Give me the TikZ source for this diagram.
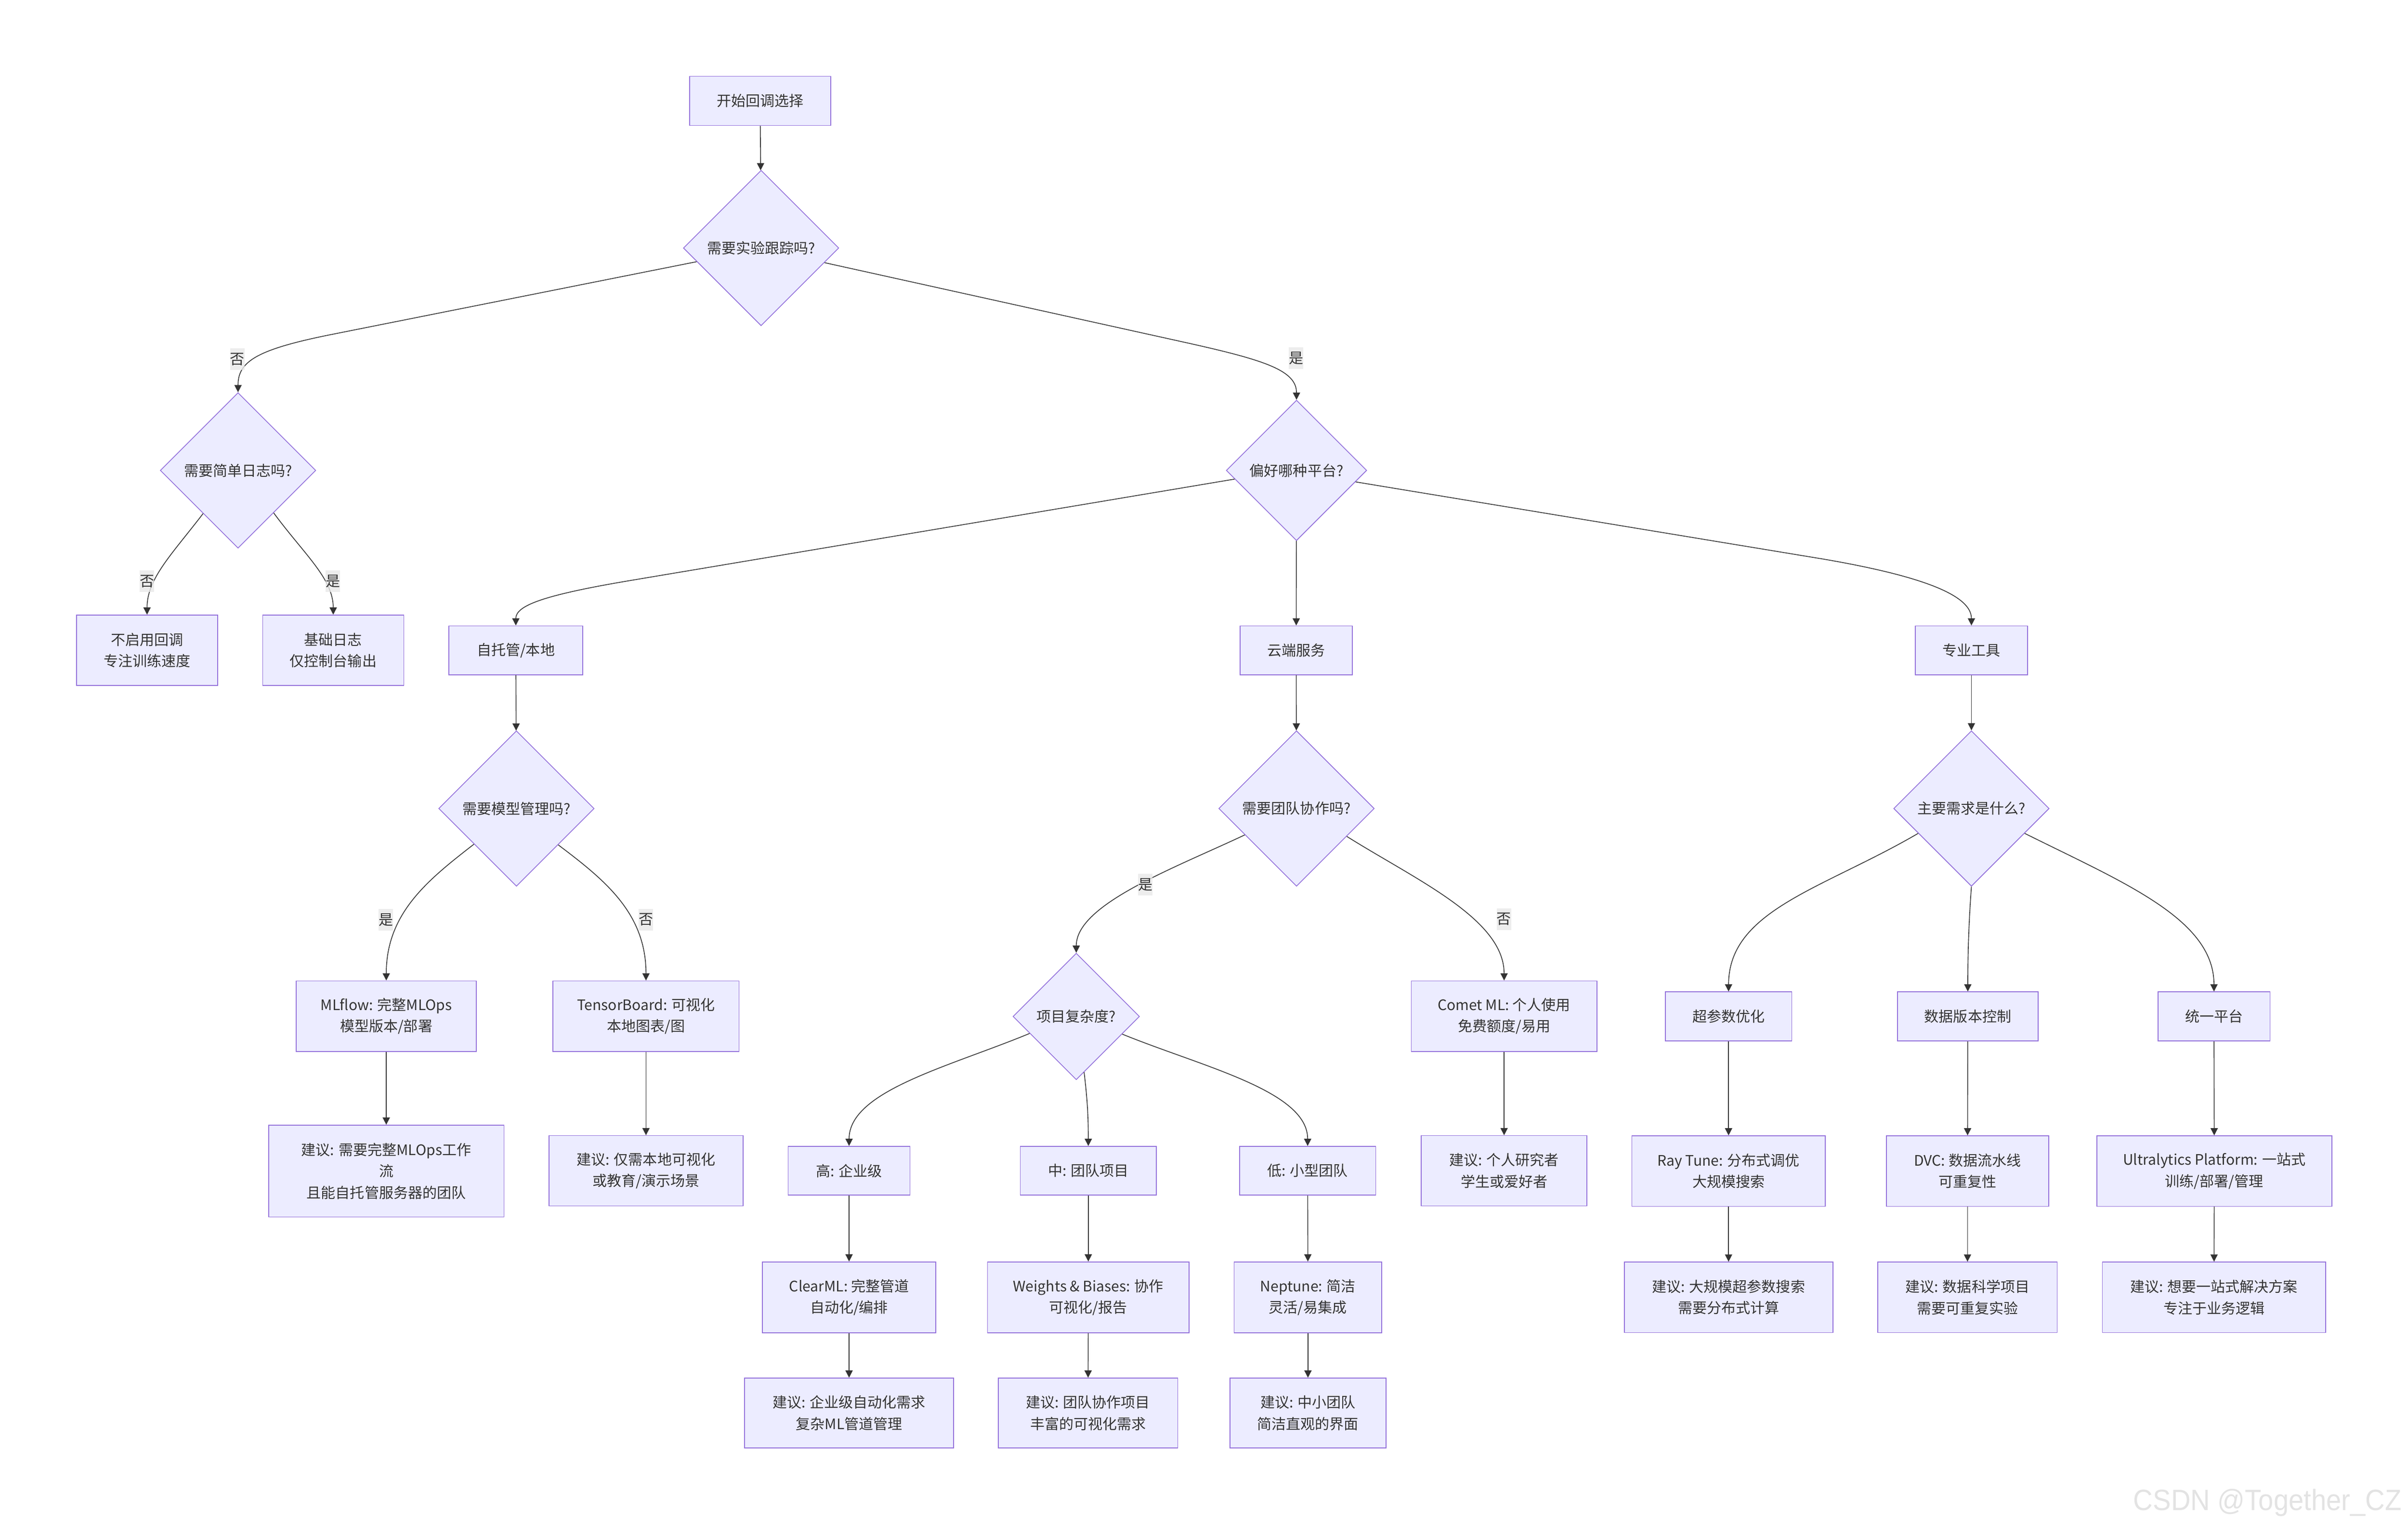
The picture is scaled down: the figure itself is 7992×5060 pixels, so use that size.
\documentclass[tikz,border=0pt]{standalone}
\usepackage{fontspec}
\setmainfont{Noto Sans CJK SC}
\newfontfamily\wmfont{Liberation Sans}
\usetikzlibrary{shapes.geometric,arrows.meta}
\definecolor{nodefill}{HTML}{ECECFF}
\definecolor{nodeline}{HTML}{9370DB}
\definecolor{txt}{HTML}{333333}
\definecolor{lblbg}{HTML}{E8E8E8}
\definecolor{wmcol}{HTML}{E3E3E3}
\tikzset{
  basenode/.style={draw=nodeline, fill=nodefill, line width=0.65pt, text=txt,
    font=\fontsize{12}{17.75}\selectfont, align=center, inner sep=0pt},
  box/.style={basenode, rectangle},
  dia/.style={basenode, diamond, aspect=1},
  edge/.style={draw=txt, line width=0.65pt, -{Triangle[length=6pt,width=6pt]}},
  lbl/.style={fill=lblbg, fill opacity=0.8, text opacity=1, text=txt,
    font=\fontsize{12}{17.75}\selectfont, inner xsep=0pt, inner ysep=0pt,
    minimum height=18pt, minimum width=12pt}
}
\begin{document}
\begin{tikzpicture}[x=0.25pt,y=-0.25pt]
\useasboundingbox (0,0) rectangle (7992,5060);

% ---------- nodes ----------
\node[box, minimum width=117.25pt, minimum height=40.75pt] (start) at (2523,335) {开始回调选择};
\node[dia, minimum width=129pt, minimum height=129pt] (d1) at (2526,823) {需要实验跟踪吗?};
\node[dia, minimum width=129pt, minimum height=129pt] (d2) at (790,1561) {需要简单日志吗?};
\node[dia, minimum width=116.5pt, minimum height=116.5pt] (dp) at (4303,1561) {偏好哪种平台?};

\node[box, minimum width=117pt, minimum height=58.5pt] (n1) at (488,2158) {不启用回调\\专注训练速度};
\node[box, minimum width=117pt, minimum height=58.5pt] (n2) at (1106,2158) {基础日志\\仅控制台输出};
\node[box, minimum width=111pt, minimum height=40.5pt] (self) at (1712,2158) {自托管/本地};
\node[box, minimum width=93pt, minimum height=40.5pt] (cloud) at (4302,2158) {云端服务};
\node[box, minimum width=93pt, minimum height=40.5pt] (pro) at (6543,2158) {专业工具};

\node[dia, minimum width=129pt, minimum height=129pt] (dm) at (1714,2683) {需要模型管理吗?};
\node[dia, minimum width=129pt, minimum height=129pt] (dt) at (4303,2683) {需要团队协作吗?};
\node[dia, minimum width=129pt, minimum height=129pt] (dn) at (6543,2683) {主要需求是什么?};

\node[box, minimum width=149.25pt, minimum height=58.5pt] (mlf) at (1282,3372) {MLflow: 完整MLOps\\模型版本/部署};
\node[box, minimum width=154.5pt, minimum height=58.5pt] (tb) at (2144,3372) {TensorBoard: 可视化\\本地图表/图};
\node[dia, minimum width=105pt, minimum height=105pt] (dx) at (3572,3373) {项目复杂度?};
\node[box, minimum width=154pt, minimum height=58.5pt] (comet) at (4992,3372) {Comet ML: 个人使用\\免费额度/易用};
\node[box, minimum width=105pt, minimum height=40.75pt] (hp) at (5737,3373) {超参数优化};
\node[box, minimum width=116.75pt, minimum height=40.75pt] (dvcg) at (6531,3373) {数据版本控制};
\node[box, minimum width=93pt, minimum height=40.75pt] (uni) at (7348,3373) {统一平台};

\node[box, minimum width=195.25pt, minimum height=76.25pt] (smlf) at (1282,3886) {建议: 需要完整MLOps工作\\流\\且能自托管服务器的团队};
\node[box, minimum width=161pt, minimum height=58.25pt] (stb) at (2144,3885) {建议: 仅需本地可视化\\或教育/演示场景};
\node[box, minimum width=137.5pt, minimum height=58.25pt] (scomet) at (4992,3885) {建议: 个人研究者\\学生或爱好者};
\node[box, minimum width=160.5pt, minimum height=58.5pt] (ray) at (5737,3886) {Ray Tune: 分布式调优\\大规模搜索};
\node[box, minimum width=134.75pt, minimum height=58.5pt] (dvc) at (6530,3886) {DVC: 数据流水线\\可重复性};
\node[box, minimum width=195pt, minimum height=58.5pt] (ultra) at (7349,3886) {Ultralytics Platform: 一站式\\训练/部署/管理};

\node[box, minimum width=101pt, minimum height=40.5pt] (hi) at (2818,3885) {高: 企业级};
\node[box, minimum width=113pt, minimum height=40.5pt] (mid) at (3612,3885) {中: 团队项目};
\node[box, minimum width=113pt, minimum height=40.5pt] (lo) at (4340,3885) {低: 小型团队};

\node[box, minimum width=143.75pt, minimum height=58.75pt] (clear) at (2818,4305) {ClearML: 完整管道\\自动化/编排};
\node[box, minimum width=167.25pt, minimum height=58.75pt] (wb) at (3612,4305) {Weights \& Biases: 协作\\可视化/报告};
\node[box, minimum width=122.5pt, minimum height=58.75pt] (nep) at (4341,4305) {Neptune: 简洁\\灵活/易集成};
\node[box, minimum width=173pt, minimum height=58.5pt] (sray) at (5737,4305) {建议: 大规模超参数搜索\\需要分布式计算};
\node[box, minimum width=148.75pt, minimum height=58.5pt] (sdvc) at (6530,4305) {建议: 数据科学项目\\需要可重复实验};
\node[box, minimum width=185.25pt, minimum height=58.5pt] (sultra) at (7348,4305) {建议: 想要一站式解决方案\\专注于业务逻辑};

\node[box, minimum width=173.25pt, minimum height=58pt] (sclear) at (2818,4689) {建议: 企业级自动化需求\\复杂ML管道管理};
\node[box, minimum width=149pt, minimum height=58pt] (swb) at (3611,4689) {建议: 团队协作项目\\丰富的可视化需求};
\node[box, minimum width=129.5pt, minimum height=58pt] (snep) at (4341,4689) {建议: 中小团队\\简洁直观的界面};

% ---------- edges ----------
\draw[edge] (start) -- (d1);
\draw[edge] (d1.192.4) -- (1100,1110) .. controls (850,1160) and (790,1200) .. (d2.north);
\draw[edge] (d1.347.6) -- (3950,1140) .. controls (4200,1196) and (4303,1230) .. (dp.north);
\draw[edge] (d2.231.3) .. controls (570,1840) and (488,1920) .. (n1.north);
\draw[edge] (d2.310.2) .. controls (1010,1840) and (1106,1920) .. (n2.north);
\draw[edge] (dp.188.6) -- (2100,1925) .. controls (1800,1975) and (1712,2010) .. (self.north);
\draw[edge] (dp) -- (cloud);
\draw[edge] (dp.349.9) -- (6050,1855) .. controls (6400,1915) and (6543,1980) .. (pro.north);
\draw[edge] (self) -- (dm);
\draw[edge] (cloud) -- (dt);
\draw[edge] (pro) -- (dn);
\draw[edge] (dm.220.6) .. controls (1420,2920) and (1282,3030) .. (mlf.north);
\draw[edge] (dm.319.2) .. controls (2007,2920) and (2144,3030) .. (tb.north);
\draw[edge] (dt.207.1) .. controls (3900,2880) and (3572,3000) .. (dx.north);
\draw[edge] (dt.331.9) .. controls (4700,2920) and (4992,3050) .. (comet.north);
\draw[edge] (dn.205.1) .. controls (6050,2950) and (5737,3020) .. (hp.north);
\draw[edge] (dn.south) .. controls (6535,3050) and (6531,3150) .. (dvcg.north);
\draw[edge] (dn.335.3) .. controls (7050,2930) and (7348,3050) .. (uni.north);
\draw[edge] (dx.200.6) .. controls (3150,3540) and (2818,3620) .. (hi.north);
\draw[edge] (dx.278) .. controls (3608,3640) and (3612,3700) .. (mid.north);
\draw[edge] (dx.339.4) .. controls (3990,3540) and (4340,3620) .. (lo.north);
\draw[edge] (mlf) -- (smlf);
\draw[edge] (tb) -- (stb);
\draw[edge] (comet) -- (scomet);
\draw[edge] (hp) -- (ray);
\draw[edge] (ray) -- (sray);
\draw[edge] (dvcg) -- (dvc);
\draw[edge] (dvc) -- (sdvc);
\draw[edge] (uni) -- (ultra);
\draw[edge] (ultra) -- (sultra);
\draw[edge] (hi) -- (clear);
\draw[edge] (clear) -- (sclear);
\draw[edge] (mid) -- (wb);
\draw[edge] (wb) -- (swb);
\draw[edge] (lo) -- (nep);
\draw[edge] (nep) -- (snep);

% ---------- edge labels ----------
\node[lbl] (l1) at (788,1192) {否};
\node[lbl] (l2) at (4302,1188) {是};
\node[lbl] (l3) at (488,1929) {否};
\node[lbl] (l4) at (1105,1929) {是};
\node[lbl] (l5) at (1281,3052) {是};
\node[lbl] (l6) at (2144,3052) {否};
\node[lbl] (l7) at (3801,2936) {是};
\node[lbl] (l8) at (4991,3050) {否};

% ---------- watermark ----------
\node[anchor=base west, inner sep=0pt, text=wmcol, font=\wmfont\fontsize{24.4}{28}\selectfont] (wm) at (7080,5012) {\scalebox{0.92}[1]{CSDN @Together\_CZ}};
\end{tikzpicture}
\end{document}
